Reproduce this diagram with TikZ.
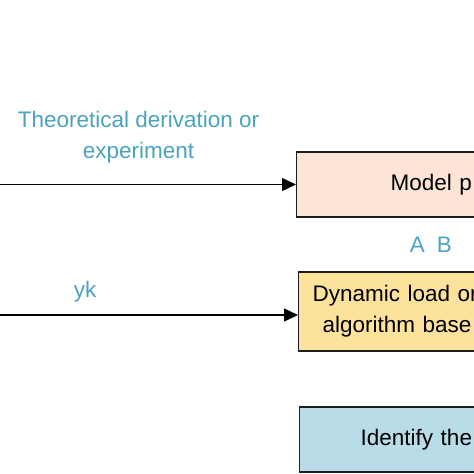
\documentclass[tikz,border=0pt]{standalone}
\usepackage{fontspec}
\setmainfont{Liberation Sans}
\usepackage{tikz}
\usetikzlibrary{arrows.meta, positioning}
\definecolor{labelteal}{RGB}{74,163,191}
\definecolor{modelpeach}{RGB}{252,229,214}
\definecolor{loadyellow}{RGB}{253,226,156}
\definecolor{identblue}{RGB}{184,221,232}
\definecolor{edgedark}{RGB}{30,30,30}
\tikzset{
    flowbox/.style={rectangle, draw=edgedark, fill=#1, line width=1.4pt, anchor=west, align=left, inner ysep=0pt, font=\fontsize{22.5}{31}\selectfont},
    flowarrow/.style={-{Triangle[length=14pt, width=13pt]}, line width=1.5pt, black},
    flowannot/.style={font=\fontsize{22.5}{31}\selectfont, text=labelteal, align=center, inner sep=0pt}
}

\begin{document}
\begin{tikzpicture}[x=1pt, y=-1pt]
\useasboundingbox (0,0) rectangle (474,474);
\clip (0,0) rectangle (474,474);

% boxes, cut by the right edge
\node[flowbox=modelpeach, minimum height=65pt, inner xsep=94pt, text width=200pt] (model) at (296,184.5) {Model p};
\node[flowbox=loadyellow, minimum height=79pt, inner xsep=14pt, text width=250pt] (load) at (298,311.5) {Dynamic load or\\\hspace*{10pt}algorithm base};
\node[flowbox=identblue, minimum height=65pt, inner xsep=61pt, text width=200pt] (ident) at (299,439.5) {Identify the};

% free ends of the input arrows
\coordinate (in1) at (0,184.5);
\coordinate (in2) at (0,315);

\draw[flowarrow] (in1) -- (model.west);
\draw[flowarrow] (in2) -- (load.west |- in2);

% labels
\node[flowannot] (theory) at (138.5,137.5) {Theoretical derivation or\\experiment};
\node[flowannot] (yk) at (85,292) {yk};
\node[flowannot] (ab) at (431,245) {A\hspace{12pt}B};

\end{tikzpicture}
\end{document}
